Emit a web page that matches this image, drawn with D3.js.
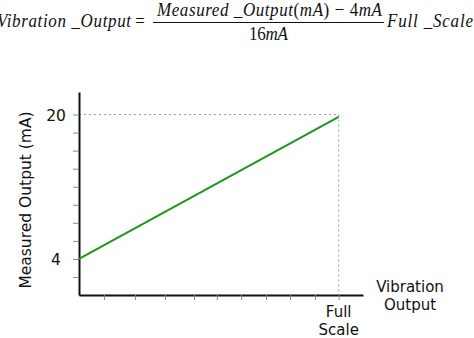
<!DOCTYPE html>
<html>
<head>
<meta charset="utf-8">
<script src="https://cdn.jsdelivr.net/npm/d3@7"></script>
<style>
  html, body { margin: 0; padding: 0; background: #fff; }
  svg { display: block; }
  .eq { font-family: "Liberation Serif", "Times New Roman", serif; font-size: 17px; fill: #111; }
  .lbl { font-family: "DejaVu Sans", Verdana, sans-serif; font-size: 15px; fill: #111; }
</style>
</head>
<body>
<svg id="chart" width="474" height="338"></svg>
<script>
// Vibration output (fraction of full scale) vs. measured loop current
const vibrationFraction = [0, 1];
const measuredMA = [4, 19.75];

// Axis ticks
const yTickValues = [2, 4, 6, 8, 10, 12, 14, 16, 18, 20];
const yTickLabels = [4, 20];
const xTickValues = [0.096, 0.216, 0.331, 0.443, 0.531, 0.624, 0.72, 0.8125, 0.909, 1];
const fullScaleMA = 20;

const svg = d3.select("#chart");

const x = d3.scaleLinear().domain([0, 1.0936]).range([79, 363]);
const y = d3.scaleLinear().domain([0, 22.5]).range([295, 92]);

// Formula: Vibration_Output = (Measured_Output(mA) - 4mA) / 16mA * Full_Scale
// The formula block is drawn slightly taller than wide, as typeset equations are.
const sy = 1.1;
const eq = svg.append("g").attr("class", "eq").attr("transform", `scale(1,${sy})`);
eq.append("text").attr("x", -3).attr("y", 27 / sy)
  .attr("textLength", 134).attr("lengthAdjust", "spacing")
  .style("font-style", "italic").text("Vibration _Output");
eq.append("text").attr("x", 140).attr("y", 27 / sy).attr("text-anchor", "middle").text("=");
const num = eq.append("text").attr("x", 157).attr("y", 15.5 / sy)
  .attr("textLength", 225).attr("lengthAdjust", "spacing");
num.append("tspan").style("font-style", "italic").text("Measured _Output");
num.append("tspan").text("(");
num.append("tspan").style("font-style", "italic").text("mA");
num.append("tspan").text(") \u2212 4");
num.append("tspan").style("font-style", "italic").text("mA");
eq.append("line").attr("x1", 153).attr("x2", 384).attr("y1", 22.5 / sy).attr("y2", 22.5 / sy)
  .attr("stroke", "#111").attr("stroke-width", 1);
const den = eq.append("text").attr("x", 249).attr("y", 40.5 / sy)
  .attr("textLength", 39).attr("lengthAdjust", "spacing");
den.append("tspan").text("16");
den.append("tspan").style("font-style", "italic").text("mA");
eq.append("text").attr("x", 387).attr("y", 27 / sy)
  .attr("textLength", 86).attr("lengthAdjust", "spacing")
  .style("font-style", "italic").text("Full _Scale");

// Dotted guides to the full-scale point
const guides = svg.append("g")
  .attr("stroke", "#9a9a9a").attr("stroke-width", 1).attr("stroke-dasharray", "2,3").attr("fill", "none");
guides.append("line").attr("x1", x(0)).attr("x2", x(1)).attr("y1", y(fullScaleMA)).attr("y2", y(fullScaleMA));
guides.append("line").attr("x1", x(1)).attr("x2", x(1)).attr("y1", y(fullScaleMA)).attr("y2", y(0));

// Axes
const yAxis = svg.append("g").attr("transform", `translate(${x(0)},0)`)
  .call(d3.axisLeft(y).tickValues(yTickValues).tickSize(6).tickSizeOuter(0)
    .tickFormat(d => yTickLabels.includes(d) ? d : ""));
const xAxis = svg.append("g").attr("transform", `translate(0,${y(0)})`)
  .call(d3.axisBottom(x).tickValues(xTickValues).tickSize(5).tickSizeOuter(0).tickFormat(() => ""));

[yAxis, xAxis].forEach(g => {
  g.select(".domain").attr("stroke", "#111").attr("stroke-width", 2);
  g.selectAll(".tick line").attr("stroke", "#888").attr("stroke-width", 1);
});
yAxis.selectAll(".tick text")
  .attr("class", "lbl").attr("text-anchor", "middle").attr("x", -23).attr("dy", "0.36em")
  .style("font-family", "DejaVu Sans, Verdana, sans-serif").style("font-size", "15.5px").attr("fill", "#111");

// Measured output line
svg.append("path")
  .datum(vibrationFraction.map((v, i) => [v, measuredMA[i]]))
  .attr("fill", "none").attr("stroke", "#1c961c").attr("stroke-width", 2)
  .attr("d", d3.line().x(d => x(d[0])).y(d => y(d[1])));

// Axis titles
svg.append("text").attr("class", "lbl")
  .attr("transform", "translate(31,200) rotate(-90)").attr("text-anchor", "middle")
  .style("font-size", "15.5px")
  .text("Measured Output (mA)");
const fs = svg.append("text").attr("class", "lbl").attr("text-anchor", "middle");
fs.append("tspan").attr("x", x(1)).attr("y", 317).text("Full");
fs.append("tspan").attr("x", x(1)).attr("y", 335).text("Scale");
const vo = svg.append("text").attr("class", "lbl").attr("text-anchor", "middle");
vo.append("tspan").attr("x", 410).attr("y", 292).text("Vibration");
vo.append("tspan").attr("x", 410).attr("y", 310).text("Output");
</script>
</body>
</html>
